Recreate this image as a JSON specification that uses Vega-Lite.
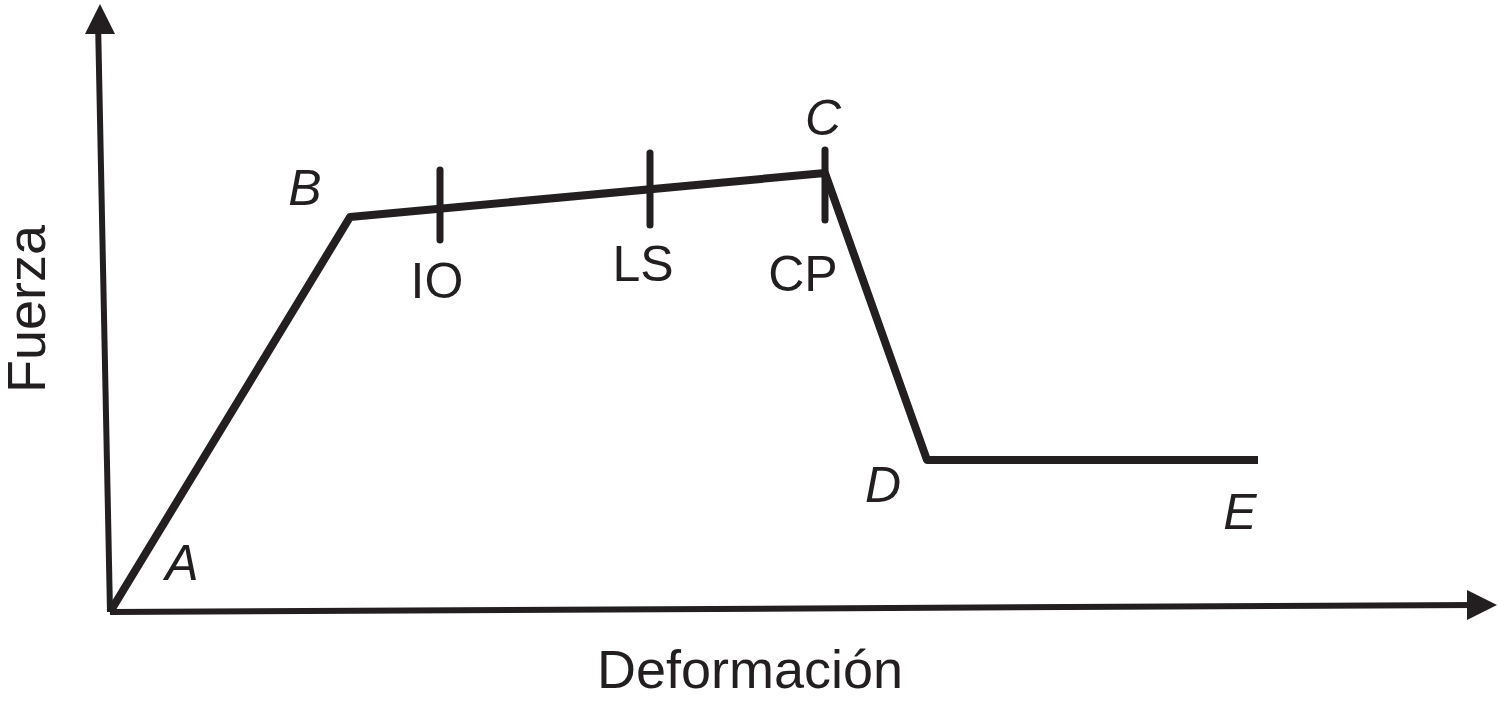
{
  "$schema": "https://vega.github.io/schema/vega-lite/v6.json",
  "width": 1500,
  "height": 702,
  "padding": 0,
  "autosize": {"type": "fit", "contains": "padding"},
  "background": "white",
  "config": {"view": {"stroke": null}},
  "datasets": {
    "curve": [
      {"p": "A", "o": 0, "x": 0, "y": 0},
      {"p": "B", "o": 1, "x": 2.40, "y": 3.95},
      {"p": "C", "o": 2, "x": 7.15, "y": 4.39},
      {"p": "D", "o": 3, "x": 8.17, "y": 1.52},
      {"p": "E", "o": 4, "x": 11.48, "y": 1.52}
    ],
    "ticks": [
      {"k": "IO", "x": 3.30, "y1": 3.72, "y2": 4.42},
      {"k": "LS", "x": 5.40, "y1": 3.87, "y2": 4.59},
      {"k": "CP", "x": 7.15, "y1": 3.92, "y2": 4.62}
    ],
    "axes": [
      {"a": "y", "x": 0, "y": 0, "x2": -0.12, "y2": 5.92},
      {"a": "x", "x": 0, "y": 0, "x2": 13.68, "y2": 0.07}
    ],
    "pointLabels": [
      {"t": "A", "x": 0.72, "y": 0.47},
      {"t": "B", "x": 1.95, "y": 4.22},
      {"t": "C", "x": 7.13, "y": 4.92},
      {"t": "D", "x": 7.73, "y": 1.25},
      {"t": "E", "x": 11.30, "y": 0.98}
    ],
    "levelLabels": [
      {"t": "IO", "x": 3.27, "y": 3.29},
      {"t": "LS", "x": 5.33, "y": 3.46},
      {"t": "CP", "x": 6.93, "y": 3.36}
    ]
  },
  "layer": [
    {
      "data": {"name": "axes"},
      "mark": {"type": "rule", "color": "#231f20", "strokeWidth": 6},
      "encoding": {
        "x": {"field": "x", "type": "quantitative", "scale": {"domain": [-1.1, 13.9], "nice": false, "zero": false}, "axis": null},
        "y": {"field": "y", "type": "quantitative", "scale": {"domain": [-0.9, 6.12], "nice": false, "zero": false}, "axis": null},
        "x2": {"field": "x2"},
        "y2": {"field": "y2"}
      }
    },
    {
      "data": {"values": [{"x": -0.10, "y": 5.93}]},
      "mark": {"type": "point", "shape": "M0,-1L1,1L-1,1Z", "filled": true, "color": "#231f20", "size": 900, "opacity": 1},
      "encoding": {
        "x": {"field": "x", "type": "quantitative"},
        "y": {"field": "y", "type": "quantitative"}
      }
    },
    {
      "data": {"values": [{"x": 13.72, "y": 0.07}]},
      "mark": {"type": "point", "shape": "M1,0L-1,-1L-1,1Z", "filled": true, "color": "#231f20", "size": 900, "opacity": 1},
      "encoding": {
        "x": {"field": "x", "type": "quantitative"},
        "y": {"field": "y", "type": "quantitative"}
      }
    },
    {
      "data": {"name": "curve"},
      "mark": {"type": "line", "color": "#231f20", "strokeWidth": 8, "strokeJoin": "round", "strokeCap": "butt"},
      "encoding": {
        "x": {"field": "x", "type": "quantitative"},
        "y": {"field": "y", "type": "quantitative"},
        "order": {"field": "o"}
      }
    },
    {
      "data": {"name": "ticks"},
      "mark": {"type": "rule", "color": "#231f20", "strokeWidth": 7, "strokeCap": "round"},
      "encoding": {
        "x": {"field": "x", "type": "quantitative"},
        "y": {"field": "y1", "type": "quantitative"},
        "y2": {"field": "y2"}
      }
    },
    {
      "data": {"name": "pointLabels"},
      "mark": {"type": "text", "font": "Liberation Sans", "fontStyle": "italic", "fontSize": 50, "color": "#231f20", "align": "center", "baseline": "middle"},
      "encoding": {
        "x": {"field": "x", "type": "quantitative"},
        "y": {"field": "y", "type": "quantitative"},
        "text": {"field": "t"}
      }
    },
    {
      "data": {"name": "levelLabels"},
      "mark": {"type": "text", "font": "Liberation Sans", "fontSize": 50, "color": "#231f20", "align": "center", "baseline": "middle"},
      "encoding": {
        "x": {"field": "x", "type": "quantitative"},
        "y": {"field": "y", "type": "quantitative"},
        "text": {"field": "t"}
      }
    },
    {
      "data": {"values": [{"t": "Deformación", "x": 6.40, "y": -0.60}]},
      "mark": {"type": "text", "font": "Liberation Sans", "fontSize": 54, "color": "#231f20", "align": "center", "baseline": "middle"},
      "encoding": {
        "x": {"field": "x", "type": "quantitative"},
        "y": {"field": "y", "type": "quantitative"},
        "text": {"field": "t"}
      }
    },
    {
      "data": {"values": [{"t": "Fuerza", "x": -0.81, "y": 3.03}]},
      "mark": {"type": "text", "font": "Liberation Sans", "fontSize": 54, "color": "#231f20", "align": "center", "baseline": "middle", "angle": 270},
      "encoding": {
        "x": {"field": "x", "type": "quantitative"},
        "y": {"field": "y", "type": "quantitative"},
        "text": {"field": "t"}
      }
    }
  ]
}
